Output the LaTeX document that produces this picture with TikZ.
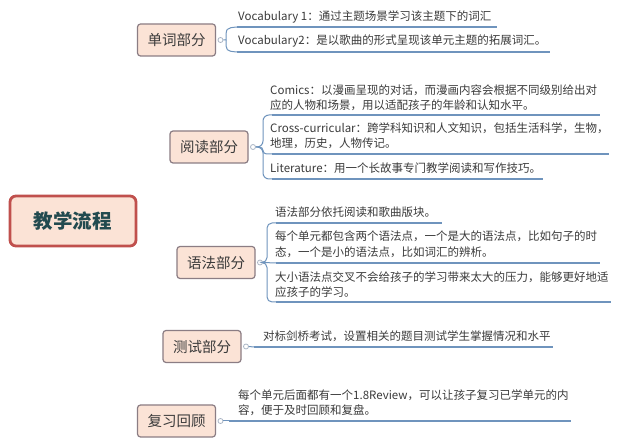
\documentclass[tikz,border=0pt]{standalone}
\usepackage{fontspec}
\setmainfont{Noto Sans CJK SC}
\usetikzlibrary{calc}
\definecolor{secfill}{HTML}{FBE3D6}
\definecolor{secborder}{HTML}{8B7D84}
\definecolor{rootfill}{HTML}{FBE3D6}
\definecolor{rootborder}{HTML}{C0504D}
\definecolor{roottext}{HTML}{224A4F}
\definecolor{conncolor}{HTML}{C3CCD9}
\definecolor{ulcolor}{HTML}{6F94BD}
\definecolor{leaftext}{HTML}{3B3B3B}
\definecolor{knobcolor}{HTML}{A9B4C4}
\pgfdeclarelayer{background}
\pgfsetlayers{background,main}
\tikzset{
  sec/.style={draw=secborder, line width=1.2pt, fill=secfill, rounded corners=3pt,
    minimum width=78pt, minimum height=32pt, inner sep=0pt,
    font=\fontsize{14.5}{16}\selectfont, text=leaftext},
  rootbox/.style={draw=rootborder, line width=2.8pt, fill=rootfill, rounded corners=6pt,
    minimum width=126pt, minimum height=50pt, inner sep=0pt,
    font=\fontsize{19.5}{22}\selectfont\bfseries, text=roottext},
  leaf/.style={anchor=west, align=left, inner sep=0pt,
    font=\fontsize{11.5}{15.5}\selectfont, text=leaftext},
  uline/.style={draw=ulcolor, line width=1.8pt},
  brace/.style={draw=ulcolor, line width=1pt},
  conn/.style={draw=conncolor, line width=1.1pt},
  knob/.style={circle, draw=knobcolor, fill=white, line width=0.8pt,
    minimum size=5pt, inner sep=0pt},
}
\begin{document}
\begin{tikzpicture}[x=1pt,y=-1pt]
\useasboundingbox (0,0) rectangle (641,446);
\fill[white] (0,0) rectangle (641,446);

% main nodes
\node[rootbox] (root) at (73,221) {教学流程};
\node[sec] (s1) at (176.5,40) {单词部分};
\node[sec] (s2) at (209,147) {阅读部分};
\node[sec] (s3) at (216,262.5) {语法部分};
\node[sec] (s4) at (202,346.5) {测试部分};
\node[sec] (s5) at (176.5,421) {复习回顾};

\foreach \s in {1,...,5}
  \node[knob, anchor=west] (k\s) at ([xshift=1.5pt]s\s.east) {};

% connectors from the root
\begin{pgfonlayer}{background}
\coordinate (r1) at ([xshift=10pt]root.north);
\coordinate (r2) at ([xshift=35pt]root.north);
\coordinate (r3) at ($(root.south east)+(-9,-7)$);
\coordinate (r4) at ([xshift=19pt]root.south);
\coordinate (r5) at ([xshift=9pt]root.south);
\draw[conn] (r1) .. controls (90,95) and (108,40) .. (s1.west);
\draw[conn] (r2) .. controls (115,160) and (135,147) .. (s2.west);
\draw[conn] (r3) .. controls (142,258) and (158,262.5) .. (s3.west);
\draw[conn] (r4) .. controls (98,305) and (128,346.5) .. (s4.west);
\draw[conn] (r5) .. controls (86,345) and (108,421) .. (s5.west);
\end{pgfonlayer}

% leaves
\node[leaf] (v1) at (238,16.5) {Vocabulary 1：通过主题场景学习该主题下的词汇};
\node[leaf] (v2) at (238,41) {Vocabulary2：是以歌曲的形式呈现该单元主题的拓展词汇。};

\node[leaf] (c1) at (270,97.5) {Comics：以漫画呈现的对话，而漫画内容会根据不同级别给出对\\应的人物和场景，用以适配孩子的年龄和认知水平。};
\node[leaf] (c2) at (270,135.5) {Cross-curricular：跨学科知识和人文知识，包括生活科学，生物，\\地理，历史，人物传记。};
\node[leaf] (c3) at (270,168.5) {Literature：用一个长故事专门教学阅读和写作技巧。};

\node[leaf] (g1) at (275,212.5) {语法部分依托阅读和歌曲版块。};
\node[leaf] (g2) at (275,244.5) {每个单元都包含两个语法点，一个是大的语法点，比如句子的时\\态，一个是小的语法点，比如词汇的辨析。};
\node[leaf] (g3) at (275,284.5) {大小语法点交叉不会给孩子的学习带来太大的压力，能够更好地适\\应孩子的学习。};

\node[leaf] (t1) at (263,336) {对标剑桥考试，设置相关的题目测试学生掌握情况和水平};

\node[leaf] (w1) at (238,402.5) {每个单元后面都有一个1.8Review，可以让孩子复习已学单元的内\\容，便于及时回顾和复盘。};

% vocabulary bracket and underlines
\coordinate (b1) at (226,40);
\coordinate (v1s) at (237,27);  \coordinate (v1e) at (497,27);
\coordinate (v2s) at (237,52);  \coordinate (v2e) at (550,52);
\draw[brace] (k1.east) -- (b1) .. controls (226,28) .. (v1s);
\draw[brace] (b1) .. controls (226,51) .. (v2s);
\draw[uline] (v1s) -- (v1e);
\draw[uline] (v2s) -- (v2e);

% reading bracket and underlines
\coordinate (c1s) at (272,115);   \coordinate (c1e) at (600,115);
\coordinate (c2s) at (272,154);   \coordinate (c2e) at (609,154);
\coordinate (c3s) at (272,179);   \coordinate (c3e) at (543,179);
\draw[brace, rounded corners=6pt] (k2.east) -| (263,115) -- (c1s);
\draw[brace, rounded corners=3.5pt] (k2.east) -| (263,154) -- (c2s);
\draw[brace, rounded corners=6pt] (k2.east) -| (263,179) -- (c3s);
\draw[uline] (c1s) -- (c1e);
\draw[uline] (c2s) -- (c2e);
\draw[uline] (c3s) -- (c3e);

% grammar bracket and underlines
\coordinate (g1s) at (276,223);   \coordinate (g1e) at (442,223);
\coordinate (g2s) at (276,263);   \coordinate (g2e) at (600,263);
\coordinate (g3s) at (276,302);   \coordinate (g3e) at (611,302);
\draw[brace, rounded corners=5pt] (k3.east) -| (267,223) -- (g1s);
\draw[brace] (k3.east) -- (g2s);
\draw[brace, rounded corners=5pt] (k3.east) -| (267,302) -- (g3s);
\draw[uline] (g1s) -- (g1e);
\draw[uline] (g2s) -- (g2e);
\draw[uline] (g3s) -- (g3e);

% test underline
\coordinate (t1s) at (254,347);   \coordinate (t1e) at (553,347);
\draw[brace] (k4.east) -- (t1s);
\draw[uline] (t1s) -- (t1e);

% review underline
\coordinate (w1s) at (229,421);   \coordinate (w1e) at (571,421);
\draw[brace] (k5.east) -- (w1s);
\draw[uline] (w1s) -- (w1e);
\end{tikzpicture}
\end{document}
